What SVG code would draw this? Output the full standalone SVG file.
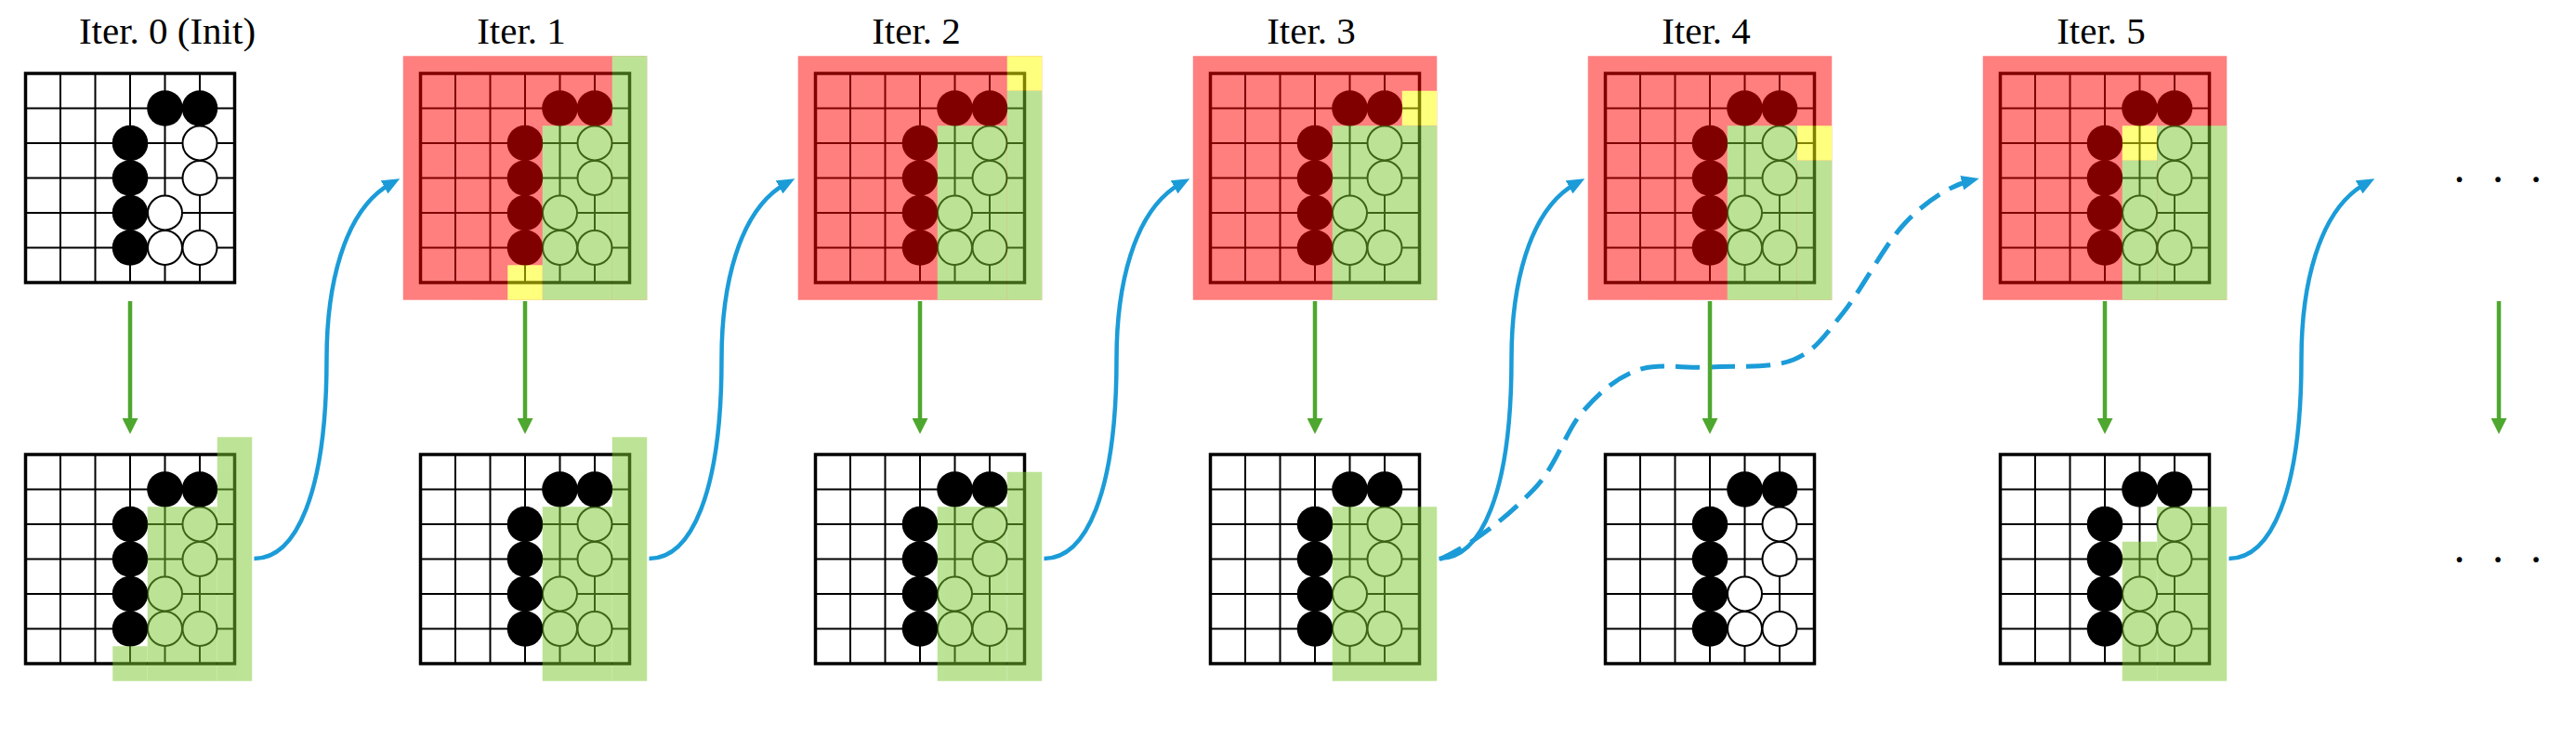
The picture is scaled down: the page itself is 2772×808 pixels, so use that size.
<svg xmlns="http://www.w3.org/2000/svg" xmlns:xlink="http://www.w3.org/1999/xlink" width="2772" height="808" viewBox="0 0 2772 808">
<style>
.title{font-family:"Liberation Serif","Times New Roman",serif;font-size:41px;fill:#000;text-anchor:middle}
.dots{font-family:"Liberation Serif","Times New Roman",serif;font-size:48px;fill:#000;text-anchor:middle}
.grid{stroke:#000;stroke-width:2;fill:none}
.frame{fill:#fff;stroke:#000;stroke-width:3.5}
.bs{fill:#000}
.ws{fill:#fff;stroke:#000;stroke-width:2}
.ov{opacity:0.5}
.r{fill:#ff0000}
.g{fill:#7cc82e}
.y{fill:#ffff00}
.blue{fill:none;stroke:#1b9cd8;stroke-width:4.5;marker-end:url(#ab)}
.dash{stroke-width:5;stroke-dasharray:26 12}
.green{fill:none;stroke:#4ea72e;stroke-width:4.5;marker-end:url(#ag)}
</style>
<defs>
<marker id="ab" markerUnits="userSpaceOnUse" viewBox="0 0 19 16" markerWidth="19" markerHeight="16" refX="9" refY="8" orient="auto">
<path d="M0,0 L19,8 L0,16 z" fill="#1b9cd8"/>
</marker>
<marker id="ag" markerUnits="userSpaceOnUse" viewBox="0 0 17 17" markerWidth="17" markerHeight="17" refX="6" refY="8.5" orient="auto">
<path d="M0,0 L17,8.5 L0,17 z" fill="#4ea72e"/>
</marker>
<g id="base">
<rect class="frame" x="0" y="0" width="225" height="225"/>
<path class="grid" d="M37.5,0V225M75,0V225M112.5,0V225M150,0V225M187.5,0V225M0,37.5H225M0,75H225M0,112.5H225M0,150H225M0,187.5H225"/>
<circle class="bs" cx="150" cy="37.5" r="19.3"/>
<circle class="bs" cx="187.5" cy="37.5" r="19.3"/>
<circle class="bs" cx="112.5" cy="75" r="19.3"/>
<circle class="bs" cx="112.5" cy="112.5" r="19.3"/>
<circle class="bs" cx="112.5" cy="150" r="19.3"/>
<circle class="bs" cx="112.5" cy="187.5" r="19.3"/>
<circle class="ws" cx="187.5" cy="75" r="18.5"/>
<circle class="ws" cx="187.5" cy="112.5" r="18.5"/>
<circle class="ws" cx="150" cy="150" r="18.5"/>
<circle class="ws" cx="150" cy="187.5" r="18.5"/>
<circle class="ws" cx="187.5" cy="187.5" r="18.5"/>
</g>
</defs>

<g id="connectors">
<path class="blue dash" d="M1549.3,601.7 C1590,583 1624.5,553.3 1650,527 C1675.5,500.7 1684.2,464.5 1703,443 C1721.8,421.5 1740.2,406 1763,398 C1785.8,390 1812.2,396.8 1840,395 C1867.8,393.2 1906.2,396.7 1930,387 C1953.8,377.3 1963,361.5 1983,337 C2003,312.5 2027.2,264 2050,240 C2072.8,216 2098,200 2120,194.5"/>
<path class="blue" d="M273.5,601 c45,0 78,-70 78,-215 c0,-75 17,-160 70,-189"/>
<path class="blue" d="M698.5,601 c45,0 78,-70 78,-215 c0,-75 17,-160 70,-189"/>
<path class="blue" d="M1123.5,601 c45,0 78,-70 78,-215 c0,-75 17,-160 70,-189"/>
<path class="blue" d="M1548.5,601 c45,0 78,-70 78,-215 c0,-75 17,-160 70,-189"/>
<path class="blue" d="M2398.5,601 c45,0 78,-70 78,-215 c0,-75 17,-160 70,-189"/>
<path class="green" d="M140,324V456"/>
<path class="green" d="M565,324V456"/>
<path class="green" d="M990,324V456"/>
<path class="green" d="M1415,324V456"/>
<path class="green" d="M1840,324V456"/>
<path class="green" d="M2265,324V456"/>
<path class="green" d="M2689,324V456"/>
</g>

<g id="iter0-top">
<text class="title" x="180" y="47">Iter. 0 (Init)</text>
<use xlink:href="#base" href="#base" x="27.5" y="79"/>
</g>
<g id="iter0-bottom" transform="translate(27.5,489)">
<use xlink:href="#base" href="#base"/>
<g class="ov"><rect class="g" x="206.25" y="-18.75" width="37.5" height="262.5"/><rect class="g" x="131.25" y="56.25" width="75" height="187.5"/><rect class="g" x="93.75" y="206.25" width="37.5" height="37.5"/></g>
</g>

<g id="iter1-top">
<text class="title" x="561" y="47">Iter. 1</text>
<g transform="translate(452.5,79)">
<use xlink:href="#base" href="#base"/>
<g class="ov"><rect class="r" x="-18.75" y="-18.75" width="262.5" height="262.5"/><rect class="g" x="206.25" y="-18.75" width="37.5" height="262.5"/><rect class="g" x="131.25" y="56.25" width="75" height="187.5"/><rect class="y" x="93.75" y="206.25" width="37.5" height="37.5"/></g>
</g>
</g>
<g id="iter1-bottom" transform="translate(452.5,489)">
<use xlink:href="#base" href="#base"/>
<g class="ov"><rect class="g" x="206.25" y="-18.75" width="37.5" height="262.5"/><rect class="g" x="131.25" y="56.25" width="75" height="187.5"/></g>
</g>

<g id="iter2-top">
<text class="title" x="986" y="47">Iter. 2</text>
<g transform="translate(877.5,79)">
<use xlink:href="#base" href="#base"/>
<g class="ov"><rect class="r" x="-18.75" y="-18.75" width="262.5" height="262.5"/><rect class="y" x="206.25" y="-18.75" width="37.5" height="37.5"/><rect class="g" x="206.25" y="18.75" width="37.5" height="225"/><rect class="g" x="131.25" y="56.25" width="75" height="187.5"/></g>
</g>
</g>
<g id="iter2-bottom" transform="translate(877.5,489)">
<use xlink:href="#base" href="#base"/>
<g class="ov"><rect class="g" x="206.25" y="18.75" width="37.5" height="225"/><rect class="g" x="131.25" y="56.25" width="75" height="187.5"/></g>
</g>

<g id="iter3-top">
<text class="title" x="1411" y="47">Iter. 3</text>
<g transform="translate(1302.5,79)">
<use xlink:href="#base" href="#base"/>
<g class="ov"><rect class="r" x="-18.75" y="-18.75" width="262.5" height="262.5"/><rect class="y" x="206.25" y="18.75" width="37.5" height="37.5"/><rect class="g" x="131.25" y="56.25" width="112.5" height="187.5"/></g>
</g>
</g>
<g id="iter3-bottom" transform="translate(1302.5,489)">
<use xlink:href="#base" href="#base"/>
<g class="ov"><rect class="g" x="131.25" y="56.25" width="112.5" height="187.5"/></g>
</g>

<g id="iter4-top">
<text class="title" x="1836" y="47">Iter. 4</text>
<g transform="translate(1727.5,79)">
<use xlink:href="#base" href="#base"/>
<g class="ov"><rect class="r" x="-18.75" y="-18.75" width="262.5" height="262.5"/><rect class="y" x="206.25" y="56.25" width="37.5" height="37.5"/><rect class="g" x="131.25" y="56.25" width="75" height="187.5"/><rect class="g" x="206.25" y="93.75" width="37.5" height="150"/></g>
</g>
</g>
<g id="iter4-bottom" transform="translate(1727.5,489)">
<use xlink:href="#base" href="#base"/>
</g>

<g id="iter5-top">
<text class="title" x="2261" y="47">Iter. 5</text>
<g transform="translate(2152.5,79)">
<use xlink:href="#base" href="#base"/>
<g class="ov"><rect class="r" x="-18.75" y="-18.75" width="262.5" height="262.5"/><rect class="y" x="131.25" y="56.25" width="37.5" height="37.5"/><rect class="g" x="131.25" y="93.75" width="37.5" height="150"/><rect class="g" x="168.75" y="56.25" width="75" height="187.5"/></g>
</g>
</g>
<g id="iter5-bottom" transform="translate(2152.5,489)">
<use xlink:href="#base" href="#base"/>
<g class="ov"><rect class="g" x="131.25" y="93.75" width="37.5" height="150"/><rect class="g" x="168.75" y="56.25" width="75" height="187.5"/></g>
</g>

<g id="more-top">
<text class="dots" x="2646.5 2667 2688 2708.5 2729" y="195.5">. . .</text>
</g>
<g id="more-bottom">
<text class="dots" x="2646.5 2667 2688 2708.5 2729" y="604.5">. . .</text>
</g>
</svg>
